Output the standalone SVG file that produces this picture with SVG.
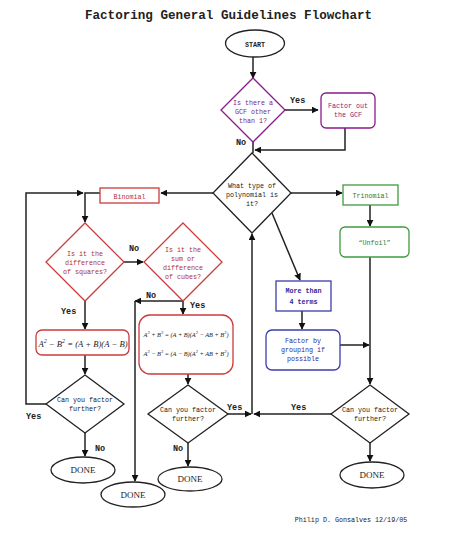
<svg xmlns="http://www.w3.org/2000/svg" width="474" height="537" viewBox="0 0 474 537">
<defs>
<marker id="ah" viewBox="0 0 10 10" refX="9" refY="5" markerWidth="7" markerHeight="7" markerUnits="userSpaceOnUse" orient="auto"><path d="M0,0 L10,5 L0,10 z" fill="#111"/></marker>
<style>
.t{font-family:"Liberation Mono","DejaVu Sans Mono",monospace;font-size:6.7px;text-anchor:middle;fill:#222}
.lb{font-family:"Liberation Mono","DejaVu Sans Mono",monospace;font-size:8.5px;font-weight:bold;fill:#222}
.m{font-family:"Liberation Serif","DejaVu Serif",serif;font-style:italic;text-anchor:middle;fill:#222}
.d{font-family:"Liberation Serif","DejaVu Serif",serif;font-size:9px;text-anchor:middle;fill:#222}
.c{fill:none;stroke:#222;stroke-width:1.5}
.blk{fill:#fff;stroke:#222;stroke-width:1.3}
.pur{fill:#fff;stroke:#8b1a8b;stroke-width:1.3}
.red{fill:#fff;stroke:#cc3b3b;stroke-width:1.3}
.grn{fill:#fff;stroke:#3f9a3f;stroke-width:1.3}
.blu{fill:#fff;stroke:#3b3bb0;stroke-width:1.3}
</style>
</defs>
<rect width="474" height="537" fill="#fff"/>
<text x="228.5" y="19" font-family="Liberation Mono, monospace" font-size="12.6" font-weight="bold" text-anchor="middle" fill="#222">Factoring General Guidelines Flowchart</text>

<g id="connectors">
<path class="c" d="M253,57 V78" marker-end="url(#ah)"/>
<path class="c" d="M284,110 H318" marker-end="url(#ah)"/>
<path class="c" d="M345,128 V150 H255" marker-end="url(#ah)"/>
<path class="c" d="M253,141 V153"/>
<path class="c" d="M213,193 H161" marker-end="url(#ah)"/>
<path class="c" d="M100,193 H85 V222" marker-end="url(#ah)"/>
<path class="c" d="M46,404 H26 V193 H83" marker-end="url(#ah)"/>
<path class="c" d="M124,262 H143" marker-end="url(#ah)"/>
<path class="c" d="M85,301 V329" marker-end="url(#ah)"/>
<path class="c" d="M85,355 V374" marker-end="url(#ah)"/>
<path class="c" d="M85,433 V456" marker-end="url(#ah)"/>
<path class="c" d="M183,301 V314" marker-end="url(#ah)"/>
<path class="c" d="M183,301 H135" marker-end="url(#ah)"/>
<path class="c" d="M135,301 V481" marker-end="url(#ah)"/>
<path class="c" d="M188,374 V384" marker-end="url(#ah)"/>
<path class="c" d="M188,443 V466" marker-end="url(#ah)"/>
<path class="c" d="M228,414 H251" marker-end="url(#ah)"/>
<path class="c" d="M331,414 H254" marker-end="url(#ah)"/>
<path class="c" d="M252,414 V234" marker-end="url(#ah)"/>
<path class="c" d="M291,193 H342" marker-end="url(#ah)"/>
<path class="c" d="M370,205 V226" marker-end="url(#ah)"/>
<path class="c" d="M370,257 V384" marker-end="url(#ah)"/>
<path class="c" d="M272,213 L300,280" marker-end="url(#ah)"/>
<path class="c" d="M302,311 V329" marker-end="url(#ah)"/>
<path class="c" d="M340,345 H369" marker-end="url(#ah)"/>
<path class="c" d="M370,443 V461" marker-end="url(#ah)"/>
<text class="lb" x="290" y="103">Yes</text>
<text class="lb" x="236" y="145">No</text>
<text class="lb" x="129" y="251">No</text>
<text class="lb" x="61" y="314">Yes</text>
<text class="lb" x="26" y="419">Yes</text>
<text class="lb" x="95" y="451">No</text>
<text class="lb" x="146" y="298">No</text>
<text class="lb" x="190" y="308">Yes</text>
<text class="lb" x="173" y="451">No</text>
<text class="lb" x="227" y="410">Yes</text>
<text class="lb" x="291" y="410">Yes</text>
</g>

<g id="start">
<ellipse class="blk" cx="255" cy="43.5" rx="29.5" ry="13.5"/>
<text class="t" x="255" y="46.5" font-size="8" font-weight="bold">START</text>
</g>
<g id="gcf-question">
<polygon class="pur" points="253,78 285,110 253,142 221,110"/>
<text class="t" x="253" y="105" style="fill:#7a2a7a">Is there a</text>
<text class="t" x="253" y="114" style="fill:#7a2a7a">GCF other</text>
<text class="t" x="253" y="123" style="fill:#7a2a7a">than 1?</text>
</g>
<g id="factor-gcf">
<rect class="pur" x="321" y="93" width="54" height="35" rx="5"/>
<text class="t" x="348" y="108" style="fill:#7a2a7a">Factor out</text>
<text class="t" x="348" y="117" style="fill:#7a2a7a">the GCF</text>
</g>
<g id="poly-type">
<polygon class="blk" points="252,153 291,193 252,233 213,193"/>
<text class="t" x="252" y="188">What type of</text>
<text class="t" x="252" y="197">polynomial is</text>
<text class="t" x="252" y="206">it?</text>
</g>
<g id="binomial">
<rect class="red" x="100" y="188" width="59" height="15"/>
<text class="t" x="129.5" y="198.5" font-size="8.5" style="fill:#c03030">Binomial</text>
</g>
<g id="diff-squares">
<polygon class="red" points="85,223 124,262 85,301 46,262"/>
<text class="t" x="85" y="256" style="fill:#b03030">Is it the</text>
<text class="t" x="85" y="265" style="fill:#b03030">difference</text>
<text class="t" x="85" y="274" style="fill:#b03030">of squares?</text>
</g>
<g id="sum-cubes">
<polygon class="red" points="183,223 222,262 183,301 144,262"/>
<text class="t" x="183" y="252" style="fill:#b03030">Is it the</text>
<text class="t" x="183" y="261" style="fill:#b03030">sum or</text>
<text class="t" x="183" y="270" style="fill:#b03030">difference</text>
<text class="t" x="183" y="279" style="fill:#b03030">of cubes?</text>
</g>
<g id="squares-formula">
<rect class="red" x="36" y="330" width="93" height="25" rx="6"/>
<text class="m" x="83" y="346.5" font-size="8.6">A<tspan font-size="6" dy="-3.5">2</tspan><tspan dy="3.5"> − B</tspan><tspan font-size="6" dy="-3.5">2</tspan><tspan dy="3.5"> = (A + B)(A − B)</tspan></text>
</g>
<g id="cubes-formula">
<rect class="red" x="139" y="315" width="94" height="59" rx="11"/>
<text class="m" x="186" y="337" font-size="6.3">A<tspan font-size="4.5" dy="-3">3</tspan><tspan dy="3"> + B</tspan><tspan font-size="4.5" dy="-3">3</tspan><tspan dy="3"> = (A + B)(A</tspan><tspan font-size="4.5" dy="-3">2</tspan><tspan dy="3"> − AB + B</tspan><tspan font-size="4.5" dy="-3">2</tspan><tspan dy="3">)</tspan></text>
<text class="m" x="186" y="356" font-size="6.3">A<tspan font-size="4.5" dy="-3">3</tspan><tspan dy="3"> − B</tspan><tspan font-size="4.5" dy="-3">3</tspan><tspan dy="3"> = (A − B)(A</tspan><tspan font-size="4.5" dy="-3">2</tspan><tspan dy="3"> + AB + B</tspan><tspan font-size="4.5" dy="-3">2</tspan><tspan dy="3">)</tspan></text>
</g>
<g id="further-left">
<polygon class="blk" points="85,375 124,404 85,433 46,404"/>
<text class="t" x="85" y="402" font-size="6.3">Can you factor</text>
<text class="t" x="85" y="411" font-size="6.3">further?</text>
</g>
<g id="further-mid">
<polygon class="blk" points="188,385 228,414 188,443 148,414"/>
<text class="t" x="188" y="412" font-size="6.3">Can you factor</text>
<text class="t" x="188" y="421" font-size="6.3">further?</text>
</g>
<g id="done-left">
<ellipse class="blk" cx="83" cy="470" rx="32" ry="13"/>
<text class="d" x="83" y="473">DONE</text>
</g>
<g id="done-far">
<ellipse class="blk" cx="133" cy="494.5" rx="32" ry="12.5"/>
<text class="d" x="133" y="497.5">DONE</text>
</g>
<g id="done-mid">
<ellipse class="blk" cx="190" cy="479" rx="32" ry="12"/>
<text class="d" x="190" y="482">DONE</text>
</g>
<g id="trinomial">
<rect class="grn" x="343" y="185" width="55" height="20"/>
<text class="t" x="370.5" y="198" font-size="8.5" style="fill:#2f7a2f">Trinomial</text>
</g>
<g id="unfoil">
<rect class="grn" x="340" y="227" width="69" height="30" rx="5"/>
<text class="t" x="374.5" y="244.5" font-size="7.5" style="fill:#2f7a2f">“Unfoil”</text>
</g>
<g id="more-terms">
<rect class="blu" x="276" y="281" width="55" height="30"/>
<text class="t" x="303.5" y="293" font-size="8" font-weight="bold" style="fill:#2a2aa0">More than</text>
<text class="t" x="303.5" y="303.5" font-size="8" font-weight="bold" style="fill:#2a2aa0">4 terms</text>
</g>
<g id="grouping">
<rect class="blu" x="266" y="330" width="74" height="40" rx="6"/>
<text class="t" x="303" y="343" style="fill:#2a2aa0">Factor by</text>
<text class="t" x="303" y="352" style="fill:#2a2aa0">grouping if</text>
<text class="t" x="303" y="361" style="fill:#2a2aa0">possible</text>
</g>
<g id="further-right">
<polygon class="blk" points="370,385 409,414 370,443 331,414"/>
<text class="t" x="370" y="412" font-size="6.3">Can you factor</text>
<text class="t" x="370" y="421" font-size="6.3">further?</text>
</g>
<g id="done-right">
<ellipse class="blk" cx="372" cy="475" rx="32" ry="13"/>
<text class="d" x="372" y="478">DONE</text>
</g>
<text class="t" x="351" y="522" font-size="6.8">Philip D. Gonsalves 12/19/05</text>
</svg>
